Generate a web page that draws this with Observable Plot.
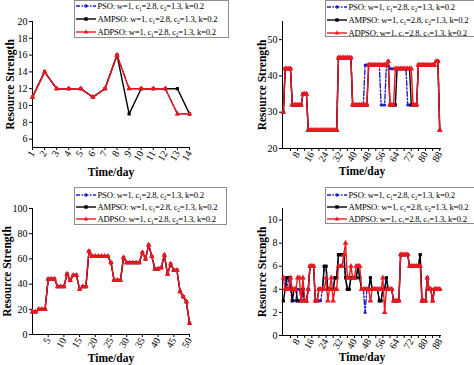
<!DOCTYPE html>
<html>
<head>
<meta charset="utf-8">
<script src="https://cdn.jsdelivr.net/npm/d3@7"></script>
<script src="https://cdn.jsdelivr.net/npm/@observablehq/plot@0.6"></script>
<style>
  html, body { margin: 0; padding: 0; background: #fff; }
  #root { position: relative; width: 474px; height: 365px; overflow: hidden; background: #fff; }
  #root svg.plot { position: absolute; }
  .legend { position: absolute; box-sizing: border-box; border: 1px solid #8c8c8c; background: #fff; overflow: hidden; }
  .legend .row { position: absolute; left: 1px; height: 12px; width: 200px; white-space: nowrap;
    font-family: "Liberation Serif", serif; font-size: 8.6px; letter-spacing: -0.2px; line-height: 12px; color: #000; }
  .legend .row svg { position: absolute; left: 0; top: 0; }
  .legend .row span { position: absolute; left: 21.5px; top: 0; }
  .legend sub { font-size: 0.62em; vertical-align: -0.3em; line-height: 0; }
</style>
</head>
<body>
<div id="root"></div>
<script>
// ---------- Data ----------
const seriesNames = ["PSO", "AMPSO", "ADPSO"];
const paramHtml = "w=1, c<sub>1</sub>=2.8, c<sub>2</sub>=1.3, k=0.2";
const xTitle = "Time/day";
const yTitle = "Resource Strength";

// Panel 1 (top-left)
const p1Days  = [1,2,3,4,5,6,7,8,9,10,11,12,13,14];
const p1PSO   = [11,14,12,12,12,11,12,16,12,12,12,12,9,9];
const p1AMPSO = [11,14,12,12,12,11,12,16,9,12,12,12,12,9];
const p1ADPSO = [11,14,12,12,12,11,12,16,12,12,12,12,9,9];
const p1YTicks = [6,8,10,12,14,16,18,20];
const p1XTicks = [1,2,3,4,5,6,7,8,9,10,11,12,13,14];

// Panel 2 (top-right), days 0..88
const p2PSO = [
  30,42,42,42,42,32,32,32,32,32,
  32,35,35,35,25,25,25,25,25,25,
  25,25,25,25,25,25,25,25,25,25,
  25,45,45,45,45,45,45,45,45,32,
  32,32,32,32,32,32,43,43,43,43,
  43,43,43,43,43,32,32,32,43,44,
  42,42,42,42,42,42,42,42,42,42,
  32,32,32,32,32,32,43,43,43,43,
  43,43,43,43,43,43,44,44,25];
const p2AMPSO = [
  30,42,42,42,42,32,32,32,32,32,
  32,35,35,35,25,25,25,25,25,25,
  25,25,25,25,25,25,25,25,25,25,
  25,45,45,45,45,45,45,45,45,32,
  32,32,32,32,32,32,32,32,43,43,
  43,43,43,43,43,43,43,43,43,44,
  32,32,32,32,42,42,42,42,42,42,
  42,42,32,32,32,32,43,43,43,43,
  43,43,43,43,43,43,44,44,25];
const p2ADPSO = [
  30,42,42,42,42,32,32,32,32,32,
  32,35,35,35,25,25,25,25,25,25,
  25,25,25,25,25,25,25,25,25,25,
  25,45,45,45,45,45,45,45,45,32,
  32,32,32,32,32,32,32,32,43,43,
  43,43,43,43,43,43,43,43,43,44,
  32,32,32,42,42,42,42,42,42,42,
  42,42,42,32,32,32,43,43,43,43,
  43,43,43,43,43,43,44,44,25];
const p2YTicks = [20,30,40,50];
const p2XTicks = [4,8,12,16,20,24,28,32,36,40,44,48,52,56,60,64,68,72,76,80,84,88];

// Panel 3 (bottom-left), days 0..50
const p3PSO = [18,18,20,20,20,44,44,44,38,38, 38,48,43,47,47,36,38,38,66,62,
  62,62,62,62,62,57,43,43,43,61, 57,57,57,57,57,65,60,71,62,52, 52,53,63,48,56,51,51,34,30,26, 9];
const p3AMPSO = [18,18,20,20,20,44,44,44,38,38, 38,48,43,47,47,36,38,38,66,62,
  62,62,62,62,62,57,43,43,43,61, 57,57,57,57,57,65,60,71,62,52, 52,53,63,48,56,51,51,34,30,26, 9];
const p3ADPSO = [18,18,20,20,20,44,44,44,38,38, 38,48,43,47,47,36,38,38,66,62,
  62,62,62,62,62,57,43,43,43,61, 57,57,57,57,57,65,60,71,62,52, 52,53,63,48,56,51,51,34,30,26, 9];
const p3YTicks = [0,20,40,60,80,100];
const p3XTicks = [5,10,15,20,25,30,35,40,45,50];

// Panel 4 (bottom-right), days 0..88
const p4PSO = [
  5,5,4,5,4,3,3,3,4,4,
  3,4,3,3,4,6,6,6,3,3,
  3,3,4,6,6,4,4,4,4,5,
  5,7,7,7,7,5,4,4,5,5,
  5,5,6,5,4,4,2,4,4,5,
  4,4,4,4,3,3,4,4,5,4,
  4,4,3,3,3,3,7,7,7,7,
  7,6,6,6,6,6,6,7,3,3,
  3,5,4,4,3,4,4,4,4];
const p4AMPSO = [
  3,4,5,5,5,3,4,4,3,3,
  3,4,3,3,4,6,6,6,3,3,
  4,4,4,6,6,4,4,4,4,5,
  5,7,7,7,7,5,4,4,5,5,
  5,5,6,5,4,4,4,4,4,5,
  4,4,4,4,3,3,4,4,5,4,
  4,4,3,3,3,3,7,7,7,7,
  7,6,6,6,6,6,6,7,3,3,
  3,5,4,4,3,4,4,4,4];
const p4ADPSO = [
  5,4,4,4,5,4,4,4,5,5,
  3,5,3,3,4,6,6,6,3,3,
  4,4,4,4,5,3,4,5,3,4,
  4,6,6,6,7,8,5,5,6,5,
  5,6,6,6,4,4,4,4,4,3,
  4,4,4,4,4,4,5,2,4,4,
  4,4,3,3,3,3,7,7,7,7,
  7,6,6,6,6,6,6,6,3,3,
  3,5,4,4,3,4,4,4,4];
const p4YTicks = [0,2,4,6,8,10];
const p4XTicks = [4,8,12,16,20,24,28,32,36,40,44,48,52,56,60,64,68,72,76,80,84,88];

// ---------- Drawing ----------
const BLUE = "#1f1fc6", RED = "#ec1820", BLACK = "#000";
const root = document.getElementById("root");

function rows(days, vals) { return vals.map((v, i) => ({day: days[i], v})); }

function panel(o) {
  const days = o.days;
  const pso = rows(days, o.pso), ampso = rows(days, o.ampso), adpso = rows(days, o.adpso);
  const svg = Plot.plot({
    width: o.width, height: o.height,
    marginLeft: o.ml, marginRight: o.mr, marginTop: o.mt, marginBottom: o.mb,
    style: {fontFamily: "Liberation Serif", fontSize: "10px", background: "transparent", color: "#000", overflow: "visible"},
    x: {domain: o.xDomain},
    y: {domain: o.yDomain},
    marks: [
      Plot.axisY({ticks: o.yTicks, tickSize: 3, tickPadding: 2, label: null, fontSize: 10}),
      Plot.axisX({ticks: o.xTicks, tickFormat: o.xFormat || (d => String(d)), tickRotate: -60,
                  tickSize: 3, tickPadding: 1, label: null, fontSize: 10}),
      Plot.ruleX([o.xDomain[0]], {stroke: BLACK, strokeWidth: 1}),
      Plot.ruleY([o.yDomain[0]], {stroke: BLACK, strokeWidth: 1}),
      Plot.line(pso, {x: "day", y: "v", stroke: BLUE, strokeWidth: 1.4, strokeDasharray: "5,2,1.5,2"}),
      Plot.dot(pso, {x: "day", y: "v", r: 1.5, fill: BLUE}),
      Plot.line(ampso, {x: "day", y: "v", stroke: BLACK, strokeWidth: 1.4}),
      Plot.dot(ampso, {x: "day", y: "v", symbol: "square", r: 1.8, fill: BLACK}),
      Plot.line(adpso, {x: "day", y: "v", stroke: RED, strokeWidth: 1.4}),
      Plot.dot(adpso, {x: "day", y: "v", symbol: "triangle", r: 2.1, fill: RED}),
      Plot.text([xTitle], {text: d => d, frameAnchor: "bottom", dy: o.xlabelDy,
                 textAnchor: "middle", lineAnchor: "middle",
                 fontWeight: "bold", fontSize: 11.5}),
      Plot.text([yTitle], {text: d => d, frameAnchor: "left", dx: o.ylabelDx, rotate: -90,
                 textAnchor: "middle", lineAnchor: "middle",
                 fontWeight: "bold", fontSize: 11.5})
    ]
  });
  svg.classList.add("plot");
  svg.style.left = o.left + "px";
  svg.style.top = o.top + "px";
  root.appendChild(svg);
}

const every8 = d => (d % 8 === 0 ? String(d) : "");

panel({left: 0, top: 0, width: 237, height: 182, ml: 32, mr: 48, mt: 21, mb: 35,
  days: p1Days, pso: p1PSO, ampso: p1AMPSO, adpso: p1ADPSO,
  xDomain: [1, 14], yDomain: [5, 20], xTicks: p1XTicks, yTicks: p1YTicks,
  xlabelDy: 25, ylabelDx: -22});

panel({left: 237, top: 0, width: 237, height: 182, ml: 45, mr: 33, mt: 21, mb: 34,
  days: d3.range(0, p2ADPSO.length), pso: p2PSO, ampso: p2AMPSO, adpso: p2ADPSO,
  xDomain: [-0.5, 89], yDomain: [20, 55], xTicks: p2XTicks, xFormat: every8, yTicks: p2YTicks,
  xlabelDy: 23, ylabelDx: -20});

panel({left: 0, top: 180, width: 237, height: 185, ml: 32, mr: 48, mt: 28, mb: 31,
  days: d3.range(0, p3ADPSO.length), pso: p3PSO, ampso: p3AMPSO, adpso: p3ADPSO,
  xDomain: [0, 50], yDomain: [0, 100], xTicks: p3XTicks, yTicks: p3YTicks,
  xlabelDy: 23.5, ylabelDx: -25.5});

panel({left: 237, top: 180, width: 237, height: 185, ml: 45, mr: 33, mt: 28, mb: 30,
  days: d3.range(0, p4ADPSO.length), pso: p4PSO, ampso: p4AMPSO, adpso: p4ADPSO,
  xDomain: [-0.5, 89], yDomain: [0, 11], xTicks: p4XTicks, xFormat: every8, yTicks: p4YTicks,
  xlabelDy: 21.5, ylabelDx: -20});

// ---------- Legends ----------
function sample(i) {
  if (i === 0) return `<svg width="21" height="12"><line x1="0" y1="6" x2="20" y2="6" stroke="${BLUE}" stroke-width="1.5" stroke-dasharray="4,1.5,1.5,1.5"/><circle cx="10" cy="6" r="1.7" fill="${BLUE}"/></svg>`;
  if (i === 1) return `<svg width="21" height="12"><line x1="0" y1="6" x2="20" y2="6" stroke="${BLACK}" stroke-width="1.4"/><rect x="8.3" y="4.3" width="3.4" height="3.4" fill="${BLACK}"/></svg>`;
  return `<svg width="21" height="12"><line x1="0" y1="6" x2="20" y2="6" stroke="${RED}" stroke-width="1.4"/><polygon points="10,3.4 12.3,7.4 7.7,7.4" fill="${RED}"/></svg>`;
}
function legendBox(left, top, width, height, rowYs) {
  const box = document.createElement("div");
  box.className = "legend";
  Object.assign(box.style, {left: left + "px", top: top + "px", width: width + "px", height: height + "px"});
  seriesNames.forEach((name, i) => {
    const row = document.createElement("div");
    row.className = "row";
    row.style.top = (rowYs[i] - 6) + "px";
    row.innerHTML = sample(i) + `<span>${name}: ${paramHtml}</span>`;
    box.appendChild(row);
  });
  root.appendChild(box);
}
legendBox(74, 0, 155, 38, [5, 18, 31]);
legendBox(325, 0, 160, 37, [6, 19, 31.5]);
legendBox(74, 187, 153, 38, [7, 19, 31]);
legendBox(325, 187, 160, 37, [7, 18.5, 31]);
</script>
</body>
</html>
